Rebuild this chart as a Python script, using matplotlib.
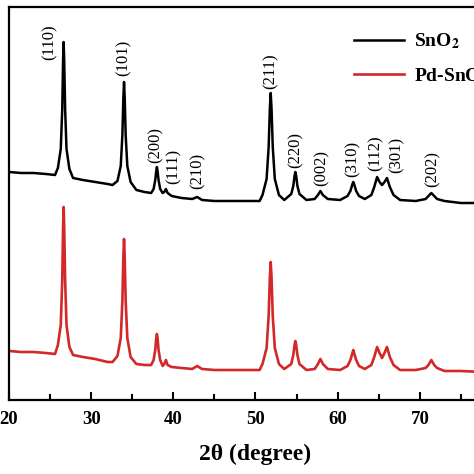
import matplotlib
matplotlib.use("Agg")
import matplotlib.pyplot as plt
from matplotlib.ticker import MultipleLocator

plt.rcParams['font.family'] = ['Liberation Serif', 'DejaVu Serif']
plt.rcParams['mathtext.fontset'] = 'stix'

# 2theta sample points (degree) and intensities (a.u.)
two_theta = [20.0, 21.5, 23.0, 24.5, 25.6,
             25.95, 26.3, 26.48, 26.58, 26.65, 26.72, 26.83, 27.0, 27.35,
             27.8, 29.0, 30.5, 32.0, 32.6,
             33.2, 33.6, 33.8, 33.92, 34.0, 34.08, 34.2, 34.4, 34.8,
             35.5, 36.5, 37.3,
             37.6, 37.8, 37.92, 38.0, 38.08, 38.2, 38.4, 38.7,
             38.9, 39.1, 39.3,
             39.8, 41.0, 42.3, 42.9, 43.5, 45.0, 47.0, 49.0, 50.5,
             50.85, 51.35, 51.6, 51.75, 51.85, 51.95, 52.1, 52.35, 52.85,
             53.5, 54.35, 54.6, 54.75, 54.85, 54.95, 55.1, 55.35,
             56.2, 57.2, 57.6, 57.9, 58.2, 58.8, 60.3,
             61.2, 61.55, 61.8, 61.9, 62.0, 62.25, 62.6, 63.3,
             64.1, 64.45, 64.8, 65.1, 65.4, 65.7, 66.0, 66.35, 66.8,
             67.6, 69.5, 70.7, 71.05, 71.4, 71.75, 72.1, 73.0, 75.0, 77.5, 80.0]

sno2 = [228, 227, 227, 226, 225,
        232, 251, 291, 339, 358, 339, 291, 251, 231,
        222, 220, 218, 216, 215,
        219, 234, 265, 303, 318, 303, 265, 234, 218,
        210, 208, 207,
        211, 220, 229, 233, 229, 220, 211, 207,
        208, 211, 207,
        204, 202, 201, 203, 200, 199, 199, 199, 199,
        205, 221, 253, 292, 307, 292, 253, 221, 205,
        200, 206, 214, 224, 228, 224, 214, 206,
        200, 201, 205, 209, 205, 201, 200,
        204, 209, 216, 218, 216, 209, 204, 201,
        205, 213, 223, 218, 215, 218, 222, 213, 205,
        200, 199, 201, 204, 207, 204, 201, 199, 197, 197, 196]

pd_sno2 = [49, 48, 48, 47, 46,
           55, 75, 120, 172, 193, 172, 120, 75, 53,
           45, 43, 41, 38, 38,
           44, 62, 99, 144, 161, 144, 99, 62, 43,
           36, 35, 35,
           40, 50, 62, 66, 62, 50, 40, 34,
           36, 40, 35,
           33, 32, 31, 34, 31, 30, 30, 30, 30,
           36, 52, 84, 123, 138, 123, 84, 52, 36,
           31, 36, 45, 55, 59, 55, 45, 36,
           30, 31, 36, 41, 36, 31, 30,
           34, 40, 47, 50, 47, 40, 34, 31,
           35, 43, 53, 47, 42, 47, 53, 43, 35,
           30, 30, 32, 35, 40, 35, 32, 29, 29, 28, 28]

# (hkl) labels and where they sit
hkl = ['(110)', '(101)', '(200)', '(111)', '(210)', '(211)',
       '(220)', '(002)', '(310)', '(112)', '(301)', '(202)']
hkl_x = [25.0, 34.0, 37.8, 40.0, 43.0, 51.9, 54.9, 58.0, 61.8, 64.6, 67.2, 71.5]
hkl_y = [358, 342, 255, 234, 229, 329, 250, 232, 241, 247, 245, 231]

fig = plt.figure(figsize=(4.74, 4.74), dpi=100)
ax = fig.add_axes([9 / 474, 74 / 474, 493 / 474, 393 / 474])

ax.plot(two_theta, sno2, color='black', lw=1.8, label=r'SnO$_\mathbf{2}$')
ax.plot(two_theta, pd_sno2, color='#d2282a', lw=1.9, label=r'Pd-SnO$_\mathbf{2}$')

for t, x, y in zip(hkl, hkl_x, hkl_y):
    ax.text(x, y, t, rotation=90, ha='center', va='center', fontsize=12)

ax.set_xlim(20, 80)
ax.set_ylim(0, 393)
ax.set_yticks([])
ax.set_xticks(range(20, 80, 10))
ax.xaxis.set_minor_locator(MultipleLocator(5))
ax.tick_params(axis='x', which='major', direction='in', length=6, width=1.5,
               labelsize=13.5, pad=8)
ax.tick_params(axis='x', which='minor', direction='in', length=4, width=1.5)
for lab in ax.get_xticklabels():
    lab.set_fontweight('bold')
for sp in ax.spines.values():
    sp.set_linewidth(1.6)

ax.set_xlabel('2θ (degree)', fontsize=17, fontweight='bold', labelpad=11)

leg = ax.legend(loc='upper left', bbox_to_anchor=(344 / 474, 1 - 22 / 474),
                bbox_transform=fig.transFigure, frameon=False, borderpad=0,
                handlelength=2.6, handletextpad=0.5, labelspacing=0.75,
                prop={'size': 14, 'weight': 'bold'})

fig.savefig('out.png', dpi=100)
